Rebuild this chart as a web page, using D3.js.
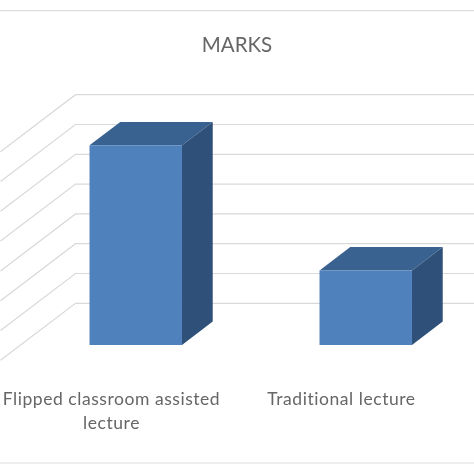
<!DOCTYPE html>
<html>
<head>
<meta charset="utf-8">
<script src="https://cdn.jsdelivr.net/npm/d3@7"></script>
<style>
  html, body { margin: 0; padding: 0; background: #fff; }
  svg { display: block; filter: blur(0.4px); }
</style>
</head>
<body>
<div id="chart"></div>
<script>
const title = "MARKS"
const categories = ["Flipped classroom assisted lecture", "Traditional lecture"]
const marks = [67, 25]
const gridValues = [0, 10, 20, 30, 40, 50, 60, 70]

const width = 474
const height = 474

const svg = d3.select("#chart").append("svg")
  .attr("width", width)
  .attr("height", height)
  .attr("viewBox", [0, 0, width, height])
  .attr("font-family", "Lato, 'Open Sans', sans-serif")

// wall coordinates, the floor comes forward from them
const x = d3.scaleBand()
  .domain(categories)
  .range([75.5, 535.5])
  .paddingInner(0.598)
  .paddingOuter(0.299)

const y = d3.scaleLinear()
  .domain([0, 70])
  .range([303.3, 94.7])

// 0 is the back wall, 1 is the front edge of the floor
const depthX = d3.scaleLinear().domain([0, 1]).range([0, -75])
const depthY = d3.scaleLinear().domain([0, 1]).range([0, 57])
const barBack = 0.32
const barFront = 0.73

function project(px, py, d) {
  return [px + depthX(d), py + depthY(d)]
}

// chart frame
svg.selectAll("line.frame")
  .data([10.7, 463])
  .join("line")
  .attr("class", "frame")
  .attr("x1", 0)
  .attr("x2", width)
  .attr("y1", d => d)
  .attr("y2", d => d)
  .attr("stroke", "#dedede")
  .attr("stroke-width", 1.2)

svg.append("text")
  .attr("x", 237)
  .attr("y", 52)
  .attr("text-anchor", "middle")
  .attr("font-size", 20.5)
  .attr("fill", "#666")
  .text(title)

// grid on the wall and on the side wall
const line = d3.line()
const grid = svg.append("g")
  .attr("fill", "none")
  .attr("stroke", "#d9d9d9")
  .attr("stroke-width", 1.2)

grid.selectAll("path")
  .data(gridValues)
  .join("path")
  .attr("d", d => line([
    project(x.range()[0], y(d), 1),
    project(x.range()[0], y(d), 0),
    project(x.range()[1], y(d), 0)
  ]))

// bars, each one is top + side + front
const bars = svg.selectAll("g.bar")
  .data(categories.map((c, i) => ({c, v: marks[i]})))
  .join("g")
  .attr("class", "bar")

function face(corners) {
  return line(corners) + "Z"
}

bars.append("path")
  .attr("fill", "#3a6291")
  .attr("d", d => {
    const l = x(d.c), r = l + x.bandwidth(), t = y(d.v)
    return face([project(l, t, barFront), project(l, t, barBack), project(r, t, barBack), project(r, t, barFront)])
  })

bars.append("path")
  .attr("fill", "#2f5179")
  .attr("d", d => {
    const r = x(d.c) + x.bandwidth(), t = y(d.v), b = y(0)
    return face([project(r, t, barFront), project(r, t, barBack), project(r, b, barBack), project(r, b, barFront)])
  })

bars.append("path")
  .attr("fill", "#4f81bd")
  .attr("d", d => {
    const l = x(d.c), r = l + x.bandwidth(), t = y(d.v), b = y(0)
    return face([project(l, t, barFront), project(r, t, barFront), project(r, b, barFront), project(l, b, barFront)])
  })

// category labels, wrapped at the width of a band step
const labels = svg.selectAll("text.cat")
  .data(categories)
  .join("text")
  .attr("class", "cat")
  .attr("text-anchor", "middle")
  .attr("font-size", 17.5)
  .attr("letter-spacing", 0.55)
  .attr("fill", "#666")
  .attr("y", 405)

labels.each(function(d) {
  const words = d.split(" ")
  const rows = words.length > 3 ? [words.slice(0, 3).join(" "), words.slice(3).join(" ")] : [d]
  const cx = x(d) + x.bandwidth() / 2 - 79
  d3.select(this).selectAll("tspan")
    .data(rows)
    .join("tspan")
    .attr("x", cx)
    .attr("dy", (r, i) => i ? 24 : 0)
    .text(r => r)
})
</script>
</body>
</html>
